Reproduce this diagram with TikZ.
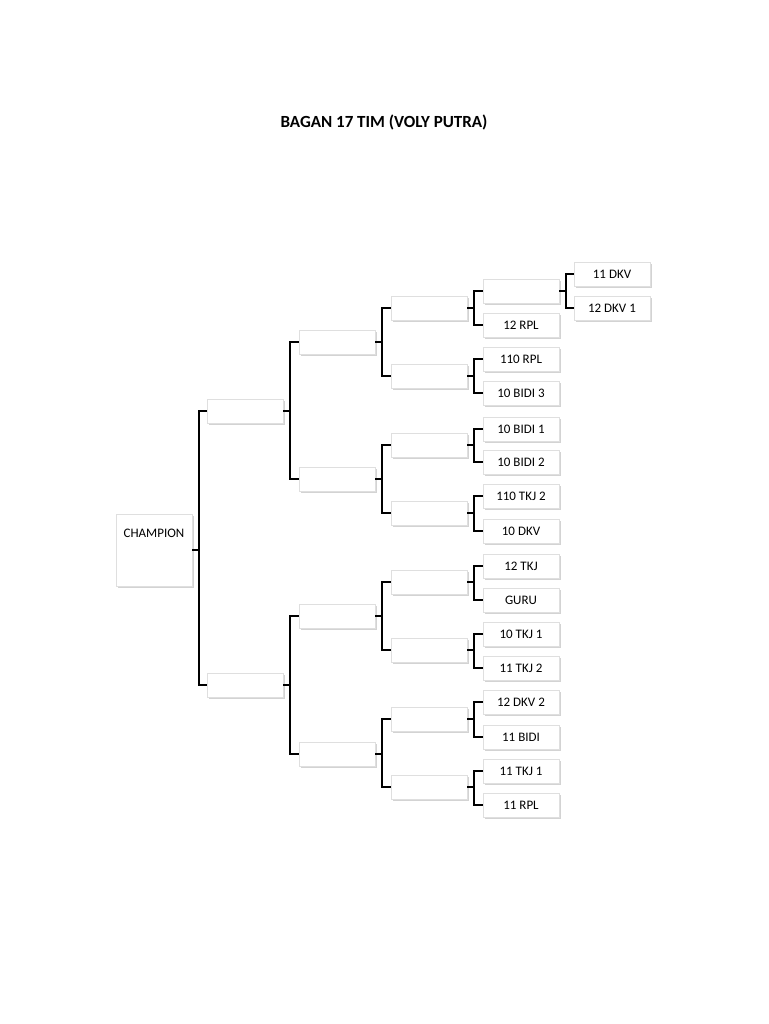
\documentclass[tikz,border=0pt]{standalone}
\usepackage{fontspec}
\setmainfont{Carlito}
\usetikzlibrary{shadows}
\begin{document}
\begin{tikzpicture}[x=1pt,y=-1pt,
 bx/.style={draw=gray!25,fill=white,minimum width=76pt,minimum height=24pt,inner sep=0pt,font=\fontsize{13}{15}\selectfont,
   drop shadow={shadow xshift=1.5pt,shadow yshift=-2pt,opacity=0.35}},
 ln/.style={line width=2.2pt}]
\useasboundingbox (0,0) rectangle (768,1024);
\node[font=\fontsize{17}{20}\selectfont\bfseries] (title) at (384,122) {BAGAN 17 TIM (VOLY PUTRA)};
\node[bx,minimum height=72pt,text depth=34pt] (ch) at (154,550) {CHAMPION};
% column 1
\node[bx] (a1) at (245,411) {};
\node[bx] (a2) at (245,685) {};
% column 2
\foreach \n/\y in {b1/342,b2/479,b3/616,b4/754}{\node[bx] (\n) at (337,\y) {};}
% column 3
\foreach \n/\y in {c1/308,c2/376,c3/445,c4/513,c5/582,c6/650,c7/719,c8/787}{\node[bx] (\n) at (429,\y) {};}
% column 4
\node[bx] (d0) at (521,291) {};
\foreach \n/\y/\t in {d1/325/12 RPL,d2/359/110 RPL,d3/393/10 BIDI 3,d4/429/10 BIDI 1,d5/462/10 BIDI 2,d6/496/110 TKJ 2,d7/531/10 DKV,d8/566/12 TKJ,d9/600/GURU,d10/634/10 TKJ 1,d11/668/11 TKJ 2,d12/702/12 DKV 2,d13/737/11 BIDI,d14/771/11 TKJ 1,d15/805/11 RPL}{\node[bx] (\n) at (521,\y) {\t};}
% column 5
\node[bx] (e1) at (612,274) {11 DKV};
\node[bx] (e2) at (612,308) {12 DKV 1};
% brackets
\foreach \p/\u/\v in {ch/a1/a2,a1/b1/b2,a2/b3/b4,b1/c1/c2,b2/c3/c4,b3/c5/c6,b4/c7/c8,c1/d0/d1,c2/d2/d3,c3/d4/d5,c4/d6/d7,c5/d8/d9,c6/d10/d11,c7/d12/d13,c8/d14/d15,d0/e1/e2}{
 \path (\p.east) ++(7,0) coordinate (v);
 \draw[ln] (\p.east |- v) -- (v);
 \draw[ln] (\u.west) -| (v) |- (\v.west);
}
\end{tikzpicture}
\end{document}
